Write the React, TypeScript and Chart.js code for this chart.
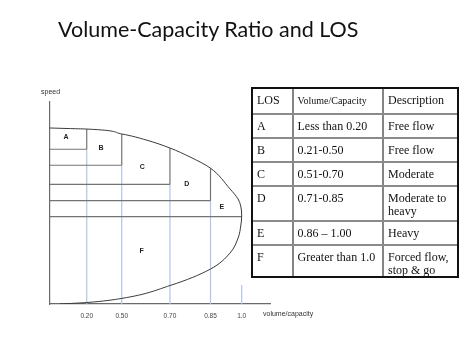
import React, { useEffect, useRef } from "react";
import { Chart, registerables } from "chart.js";

Chart.register(...registerables);

// ---------- data ----------
const titleText = "Volume-Capacity Ratio and LOS";

// speed / flow curve (x = v/c position, y = relative speed), bottom to top
const curveX = [0.052, 0.193, 0.376, 0.627, 0.839, 0.941, 0.985, 0.997, 1.002, 0.997, 0.983, 0.941, 0.838, 0.732, 0.627, 0.502, 0.375, 0.192, 0.094, 0];
const curveY = [0, 0.0085, 0.032, 0.105, 0.199, 0.29, 0.381, 0.444, 0.501, 0.558, 0.598, 0.655, 0.774, 0.837, 0.888, 0.934, 0.968, 0.996, 0.999, 1.002];

// LOS boundaries on the diagram
const boundaryX = [0.192, 0.375, 0.627, 0.839, 1.002];
const boxBottomY = [0.881, 0.79, 0.681, 0.588, 0.497];
const boxTopY = [0.996, 0.968, 0.888, 0.774];
const blueTopY = [0.881, 0.79, 0.681, 0.588, 0.108];
const blueBottomY = -0.023;

const tickLabels = ["0.20", "0.50", "0.70", "0.85", "1.0"];

const zoneLetters = ["A", "B", "C", "D", "E", "F"];
const zoneX = [0.084, 0.267, 0.483, 0.715, 0.898, 0.479];
const zoneY = [0.949, 0.886, 0.782, 0.681, 0.554, 0.302];

// table
const losLevels = ["A", "B", "C", "D", "E", "F"];
const vcRanges = ["Less than 0.20", "0.21-0.50", "0.51-0.70", "0.71-0.85", "0.86 \u2013 1.00", "Greater than 1.0"];
const descriptions = ["Free flow", "Free flow", "Moderate", "Moderate to heavy", "Heavy", "Forced flow, stop & go"];
const tableHeaders = ["LOS", "Volume/Capacity", "Description"];

// ---------- layout (positions only) ----------
const colLines = [252, 292.5, 382.5, 457.5];
const rowLines = [88, 113.5, 138, 161.5, 185.5, 220.5, 244.5, 277];
const colPad = [5, 5, 5.5];

export default function App() {
  const ref = useRef<HTMLCanvasElement>(null);

  useEffect(() => {
    const datasets: any[] = [];
    datasets.push({
      data: curveX.map((x, i) => ({ x, y: curveY[i] })),
      indexAxis: "y",
      cubicInterpolationMode: "monotone",
      borderColor: "#3a3a3a",
      borderWidth: 1,
      pointRadius: 0,
      fill: false,
    });
    const seg = (pts: any[], color: string) => ({
      data: pts,
      borderColor: color,
      borderWidth: 1.2,
      pointRadius: 0,
      tension: 0,
      fill: false,
    });
    // gray box lines
    boundaryX.forEach((bx, i) => {
      datasets.push(seg([{ x: 0, y: boxBottomY[i] }, { x: bx, y: boxBottomY[i] }], "#737373"));
      if (i < boxTopY.length) {
        datasets.push(seg([{ x: bx, y: boxBottomY[i] }, { x: bx, y: boxTopY[i] }], "#737373"));
      }
    });
    // blue guide lines
    boundaryX.forEach((bx, i) => {
      datasets.push(seg([{ x: bx, y: blueBottomY }, { x: bx, y: blueTopY[i] }], "#b3c5e6"));
    });

    const labelPlugin = {
      id: "labels",
      afterDatasetsDraw(chart: any) {
        const { ctx, scales } = chart;
        const xs = scales.x;
        const ys = scales.y;
        ctx.save();
        ctx.fillStyle = "#222";
        ctx.font = "bold 7px 'Liberation Sans', Arial, sans-serif";
        ctx.textAlign = "center";
        ctx.textBaseline = "middle";
        zoneLetters.forEach((l, i) => {
          ctx.fillText(l, xs.getPixelForValue(zoneX[i]), ys.getPixelForValue(zoneY[i]));
        });
        ctx.font = "7px 'Liberation Sans', Arial, sans-serif";
        ctx.fillStyle = "#333";
        ctx.textAlign = "left";
        ctx.fillText("speed", chart.chartArea.left - 9, chart.chartArea.top - 10);
        ctx.fillText("volume/capacity", chart.chartArea.right - 7, ys.getPixelForValue(0) + 10);
        ctx.restore();
      },
    };

    const chart = new Chart(ref.current as HTMLCanvasElement, {
      type: "line",
      data: { datasets },
      options: {
        responsive: false,
        animation: false,
        layout: { padding: { left: 50, right: 204, top: 102, bottom: 31 } },
        plugins: { legend: { display: false }, tooltip: { enabled: false }, title: { display: false } },
        scales: {
          x: {
            type: "linear",
            min: 0,
            max: 1.15,
            grid: { display: false, drawTicks: false },
            border: { display: true, color: "#6a6a6a", width: 1.2 },
            afterBuildTicks: (scale: any) => {
              scale.ticks = boundaryX.map((v) => ({ value: v }));
            },
            afterFit: (scale: any) => {
              scale.height = 20;
            },
            ticks: {
              autoSkip: false,
              maxRotation: 0,
              padding: 8,
              color: "#444",
              font: { size: 6.5, family: "'Liberation Sans', Arial, sans-serif" },
              callback: (_v: any, idx: number) => tickLabels[idx],
            },
          },
          y: {
            type: "linear",
            min: 0,
            max: 1.15,
            grid: { display: false, drawTicks: false },
            border: { display: true, color: "#6a6a6a", width: 1.2 },
            ticks: { display: false },
            afterFit: (scale: any) => {
              scale.width = 0;
            },
          },
        },
      },
      plugins: [labelPlugin],
    });
    return () => chart.destroy();
  }, []);

  const cells: any[] = [];
  const rows = [tableHeaders, ...losLevels.map((l, i) => [l, vcRanges[i], descriptions[i]])];
  rows.forEach((r, ri) => {
    r.forEach((txt, ci) => {
      const small = ri === 0 && ci === 1;
      cells.push(
        <div
          key={ri + "-" + ci}
          style={{
            position: "absolute",
            left: colLines[ci] + colPad[ci],
            top: rowLines[ri] + (small ? 5.5 : 6),
            width: colLines[ci + 1] - colLines[ci] - colPad[ci] - 2,
            fontFamily: "'Liberation Serif', 'Times New Roman', serif",
            fontSize: small ? 10 : 12,
            lineHeight: "13.4px",
            color: "#111",
            whiteSpace: ci === 1 ? "nowrap" : "normal",
          }}
        >
          {txt}
        </div>
      );
    });
  });

  return (
    <div style={{ position: "fixed", left: 0, top: 0, width: 474, height: 355, background: "#fff", overflow: "hidden" }}>
      <canvas ref={ref} width={474} height={355} style={{ position: "absolute", left: 0, top: 0, width: 474, height: 355 }} />
      <div
        style={{
          position: "absolute",
          left: 58,
          top: 19,
          fontFamily: "Lato, 'Open Sans', sans-serif",
          fontSize: 21.5,
          lineHeight: 1,
          whiteSpace: "nowrap",
          color: "#111",
        }}
      >
        {titleText}
      </div>
      {/* table grid */}
      <div style={{ position: "absolute", left: 251, top: 87, width: 208, height: 191, border: "2px solid #111", boxSizing: "border-box" }} />
      {colLines.slice(1, 3).map((x, i) => (
        <div key={"c" + i} style={{ position: "absolute", left: x - 1, top: 89, width: 2, height: 187, background: "#858585" }} />
      ))}
      {rowLines.slice(1, rowLines.length - 1).map((y, i) => (
        <div key={"r" + i} style={{ position: "absolute", left: 253, top: y - 1, width: 204, height: 2, background: "#8a8a8a" }} />
      ))}
      {cells}
    </div>
  );
}
